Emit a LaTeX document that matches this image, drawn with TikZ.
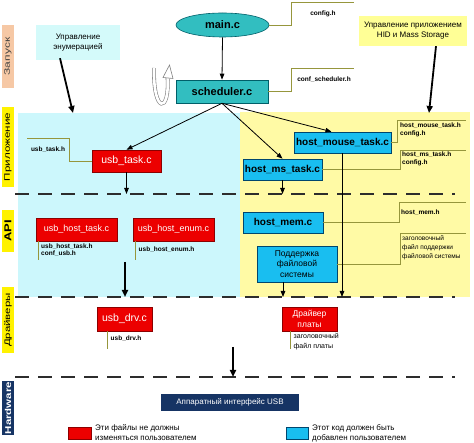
\documentclass[tikz,border=0pt]{standalone}
\usepackage{fontspec}
\setmainfont{Liberation Sans}
\usetikzlibrary{arrows.meta,shapes.geometric,calc}
\definecolor{tealf}{RGB}{50,190,192}
\definecolor{teald}{RGB}{0,95,105}
\definecolor{redf}{RGB}{236,0,0}
\definecolor{redd}{RGB}{140,0,0}
\definecolor{cyanf}{RGB}{25,190,240}
\definecolor{cyand}{RGB}{0,70,110}
\definecolor{bgblue}{RGB}{204,247,252}
\definecolor{bgyel}{RGB}{255,250,165}
\definecolor{topyel}{RGB}{255,255,150}
\definecolor{topblue}{RGB}{212,250,250}
\definecolor{lblorange}{RGB}{246,200,165}
\definecolor{lblyel}{RGB}{255,242,0}
\definecolor{navy}{RGB}{22,52,100}
\definecolor{olive}{RGB}{150,150,60}
\definecolor{dashc}{RGB}{45,45,45}
\newcommand{\stretchlbl}[2]{\scalebox{#1}[1]{#2}}
\tikzset{
  fsz/.style={font=\fontsize{#1}{#1}\selectfont},
  redbox/.style={fill=redf,draw=redd,line width=0.6pt,text=white,inner sep=0pt,align=center},
  cyanbox/.style={fill=cyanf,draw=cyand,line width=0.6pt,text=black,inner sep=0pt,align=center},
  tealbox/.style={fill=tealf,draw=teald,line width=0.6pt,inner sep=0pt,font=\fontsize{11}{13}\selectfont\bfseries},
  hline/.style={draw=olive,line width=0.8pt},
  htext/.style={inner sep=0pt,align=left,font=\fontsize{6.5}{7.8}\selectfont\bfseries},
  hctext/.style={inner sep=0pt,align=left,font=\fontsize{6.5}{9}\selectfont},
  thinarr/.style={line width=0.8pt,-{Triangle[length=6pt,width=4.5pt]}},
  thickarr/.style={line width=1.8pt,-{Triangle[length=7pt,width=6pt]}},
  sepline/.style={draw=dashc,line width=1.3pt,dash pattern=on 14pt off 9pt},
  sidelbl/.style={rotate=90,inner sep=0pt,minimum height=12pt,font=\fontsize{8}{8}\selectfont},
  legtext/.style={inner sep=0pt,align=left,font=\fontsize{8}{10}\selectfont}
}
\begin{document}
\begin{tikzpicture}[x=1pt,y=-1pt]
\useasboundingbox (0,0) rectangle (474,443);
% backgrounds
\fill[bgblue] (18,113) rectangle (240,297);
\fill[bgyel] (240,112) rectangle (470,297);
% side labels
\node[sidelbl,fill=lblorange,minimum width=63pt,text=black!75] (lzap) at (8,56.5) {\stretchlbl{1.5}{Запуск}};
\node[sidelbl,fill=lblyel,minimum width=80pt] (lapp) at (8,147) {\stretchlbl{1.45}{Приложение}};
\node[sidelbl,fill=lblyel,minimum width=42pt,font=\fontsize{10}{10}\selectfont\bfseries] (lapi) at (8,231) {\stretchlbl{1.3}{API}};
\node[sidelbl,fill=lblyel,minimum width=66pt] (ldrv) at (8,320) {\stretchlbl{1.43}{Драйверы}};
\node[sidelbl,fill=navy,minimum width=54pt,text=white,font=\fontsize{8.5}{9}\selectfont\bfseries] (lhw) at (8,408) {\stretchlbl{1.35}{Hardware}};
% separators
\draw[sepline] (15,194) -- (455,194);
\draw[sepline] (15,297) -- (455,297);
\draw[sepline] (15,377) -- (455,377);
% top boxes
\node[fill=topblue,minimum width=84pt,minimum height=35pt,inner sep=0pt,align=center,fsz=8] (enumbox) at (78,42.5) {Управление\\[2pt]энумерацией};
\node[fill=topyel,minimum width=108pt,minimum height=30pt,inner sep=0pt,align=center,fsz=8] (hidbox) at (413,31) {Управление приложением\\[2pt]HID и Mass Storage};
% main and scheduler
\node[ellipse,fill=tealf,draw=teald,line width=0.6pt,minimum width=93pt,minimum height=24pt,inner sep=0pt,font=\fontsize{11}{13}\selectfont\bfseries] (mainc) at (222.5,25) {main.c};
\node[tealbox,minimum width=92pt,minimum height=23pt] (sched) at (222,91.5) {scheduler.c};
% cycle arrow
\draw[draw=gray,double=white,double distance=2.6pt,line width=0.6pt] (154,68) .. controls (153,114) and (170,114) .. (167.5,77);
\draw[gray,fill=white,line width=0.6pt] (163,77.5) -- (169.5,65) -- (173,78.5) -- cycle;
% application boxes
\node[redbox,minimum width=69pt,minimum height=22pt,fsz=10.5] (usbtask) at (126.5,161) {usb\_task.c};
\node[cyanbox,minimum width=97pt,minimum height=21pt,font=\fontsize{10}{12}\selectfont\bfseries] (hmouse) at (342.5,142.5) {host\_mouse\_task.c};
\node[cyanbox,minimum width=79pt,minimum height=21pt,font=\fontsize{10}{12}\selectfont\bfseries] (hms) at (282.5,169.5) {host\_ms\_task.c};
% API boxes
\node[redbox,minimum width=81pt,minimum height=23pt,fsz=9] (uht) at (76.5,229.5) {usb\_host\_task.c};
\node[redbox,minimum width=81pt,minimum height=23pt,fsz=9] (uhe) at (173.5,229.5) {usb\_host\_enum.c};
\node[cyanbox,minimum width=80pt,minimum height=21pt,font=\fontsize{10}{12}\selectfont\bfseries] (hmem) at (283,222.5) {host\_mem.c};
\node[cyanbox,minimum width=80pt,minimum height=36pt,font=\fontsize{8.5}{10.5}\selectfont] (fs) at (297,264) {Поддержка\\файловой\\системы};
% drivers
\node[redbox,minimum width=55pt,minimum height=24pt,fsz=10.5] (udrv) at (124.5,319) {usb\_drv.c};
\node[redbox,minimum width=55pt,minimum height=24pt,font=\fontsize{8.5}{10.5}\selectfont] (board) at (309.5,319) {Драйвер\\платы};
% hardware
\node[fill=navy,text=white,minimum width=138pt,minimum height=17pt,inner sep=0pt,fsz=8] (hw) at (230,402.5) {Аппаратный интерфейс USB};
% header connectors
\coordinate (cfgA) at (354,2);
\draw[hline] (mainc.east) -- ++(22,0) |- (cfgA);
\node[htext] (tcfgA) at (323,14) {config.h};
\coordinate (cfgS) at (354,68);
\draw[hline] (sched.east) -- (291,91.5) |- (cfgS);
\node[htext] (tcfgS) at (324,80) {conf\_scheduler.h};
\coordinate (cfgU) at (27,138);
\draw[hline] (usbtask.west) -- (69,161) |- (cfgU);
\node[htext] (tcfgU) at (48,150) {usb\_task.h};
\coordinate (cfgM) at (466,120);
\draw[hline] (hmouse.east) -- (397,142.5) |- (cfgM);
\node[htext,anchor=west] (tcfgM) at (400,130) {host\_mouse\_task.h\\config.h};
\coordinate (cfgT) at (466,150);
\draw[hline] (hms.east) -- (400,169.5) |- (cfgT);
\node[htext,anchor=west] (tcfgT) at (402,159) {host\_ms\_task.h\\config.h};
\coordinate (cfgH) at (466,202);
\draw[hline] (hmem.east) -- (399,222.5) |- (cfgH);
\node[htext,anchor=west] (tcfgH) at (401,213) {host\_mem.h};
\coordinate (cfgF) at (466,233);
\draw[hline] (fs.east) -- (400,264) |- (cfgF);
\node[hctext,anchor=west] (tcfgF) at (402,248) {заголовочный\\файл поддержки\\файловой системы};
\draw[hline] ($(uht.south west)+(3,0)$) -- ++(0,19);
\node[htext,anchor=west] (tuht) at (41,250) {usb\_host\_task.h\\conf\_usb.h};
\draw[hline] ($(uhe.south west)+(3,0)$) -- ++(0,19);
\node[htext,anchor=west] (tuhe) at (138.5,250) {usb\_host\_enum.h};
\draw[hline] ($(udrv.south west)+(11,0)$) -- ++(0,18);
\node[htext,anchor=west] (tudrv) at (110.5,339) {usb\_drv.h};
\draw[hline] ($(board.south west)+(9,0)$) -- ++(0,18);
\node[hctext,anchor=west,font=\fontsize{7}{10.5}\selectfont] (tboard) at (293.5,341.5) {заголовочный\\файл платы};
% arrows
\draw[thinarr] (mainc.south) -- (sched.north);
\draw[thinarr] (sched.south) -- (usbtask.north);
\draw[thinarr] (sched.south) -- (hms.north);
\draw[thinarr] (sched.south) -- ($(hmouse.north)+(-11,0)$);
\coordinate (d1) at (126.5,194);
\draw[thinarr] (usbtask.south) -- (d1);
\coordinate (d2) at (282.5,194);
\draw[thinarr] (hms.south) -- (d2);
\coordinate (d3) at (342,297);
\draw[thinarr] (hmouse.south -| d3) -- (d3);
\coordinate (d4) at (283,297);
\draw[thinarr] (fs.south -| d4) -- (d4);
\coordinate (e1) at (73,113);
\draw[thickarr] ($(enumbox.south)+(-18,-2)$) -- (e1);
\coordinate (e2) at (429,113);
\draw[thickarr] ($(hidbox.south)+(23,0)$) -- (e2);
\coordinate (e3a) at (125,262);
\coordinate (e3) at (125,297);
\draw[thickarr] (e3a) -- (e3);
\coordinate (e4a) at (233,347);
\coordinate (e4) at (233,377);
\draw[thickarr] (e4a) -- (e4);
% legend
\node[fill=redf,draw=redd,line width=0.6pt,minimum width=23pt,minimum height=12pt,inner sep=0pt] (legr) at (79.5,433) {};
\node[legtext,anchor=west] (legrt) at (95,433) {Эти файлы не должны\\изменяться пользователем};
\node[fill=cyanf,draw=cyand,line width=0.6pt,minimum width=22pt,minimum height=12pt,inner sep=0pt] (legc) at (297,433) {};
\node[legtext,anchor=west] (legct) at (312,433) {Этот код должен быть\\добавлен пользователем};
\end{tikzpicture}
\end{document}
